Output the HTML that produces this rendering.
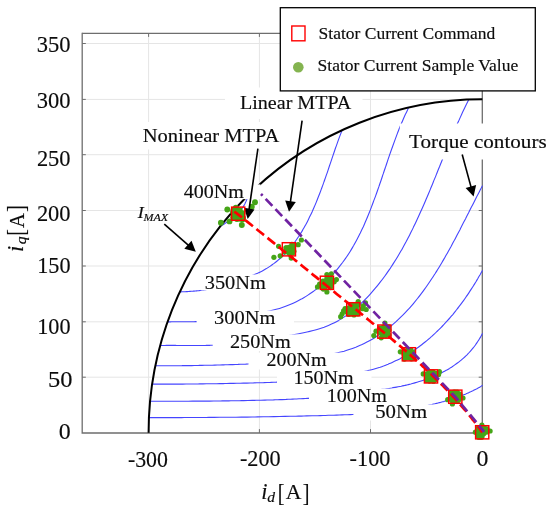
<!DOCTYPE html><html><head><meta charset="utf-8"><title>MTPA current trajectory</title>
<style>html,body{margin:0;padding:0;background:#fff}svg{display:block}text{font-family:"Liberation Serif","DejaVu Serif",serif;fill:#0c0c0c;stroke:#0c0c0c;stroke-width:0.15px}</style></head><body>
<svg width="550" height="509" viewBox="0 0 550 509">
<rect width="550" height="509" fill="#fff"/>
<g stroke="#e5e5e5" stroke-width="1"><line x1="148.6" y1="33.3" x2="148.6" y2="432.7"/><line x1="259.4" y1="33.3" x2="259.4" y2="432.7"/><line x1="370.5" y1="33.3" x2="370.5" y2="432.7"/><line x1="82.2" y1="43.5" x2="482.3" y2="43.5"/><line x1="82.2" y1="99.4" x2="482.3" y2="99.4"/><line x1="82.2" y1="154.7" x2="482.3" y2="154.7"/><line x1="82.2" y1="210.5" x2="482.3" y2="210.5"/><line x1="82.2" y1="266.0" x2="482.3" y2="266.0"/><line x1="82.2" y1="321.8" x2="482.3" y2="321.8"/><line x1="82.2" y1="377.2" x2="482.3" y2="377.2"/></g>
<g stroke="#6e6e6e" stroke-width="1.3" fill="none">
<path d="M82.2 32.7 V433.0 H482.3 V33.3"/>
<path d="M82.2 33.3 H482.3"/>
<path d="M148.6 433.0 v-3.9 M148.6 33.3 v3.6 M259.4 433.0 v-3.9 M259.4 33.3 v3.6 M370.5 433.0 v-3.9 M370.5 33.3 v3.6 M82.2 43.5 h3.6 M482.3 43.5 h-3.6 M82.2 99.4 h3.6 M482.3 99.4 h-3.6 M82.2 154.7 h3.6 M482.3 154.7 h-3.6 M82.2 210.5 h3.6 M482.3 210.5 h-3.6 M82.2 266.0 h3.6 M482.3 266.0 h-3.6 M82.2 321.8 h3.6 M482.3 321.8 h-3.6 M82.2 377.2 h3.6 M482.3 377.2 h-3.6" stroke-width="1"/>
</g>
<g stroke="#4545ff" stroke-width="1.1" fill="none" stroke-linecap="round">
<path d="M219.6 226.8 C219.8 226.7 220.2 226.4 220.5 226.3 C220.8 226.1 221.1 225.9 221.4 225.7 C221.7 225.5 222.0 225.3 222.4 225.1 C222.7 224.9 223.0 224.8 223.3 224.6 C223.6 224.4 223.9 224.2 224.2 224.0 C224.5 223.8 224.8 223.6 225.1 223.4 C225.4 223.2 225.7 223.0 226.0 222.8 C226.3 222.6 226.6 222.4 226.9 222.2 C227.2 222.0 227.5 221.8 227.8 221.6 C228.1 221.4 228.4 221.2 228.7 221.0 C229.0 220.8 229.3 220.6 229.6 220.4 C229.9 220.2 230.1 220.0 230.4 219.7 C230.7 219.5 231.0 219.3 231.3 219.1 C231.6 218.9 231.9 218.7 232.1 218.4 C232.4 218.2 232.7 218.0 233.0 217.8 C233.3 217.5 233.5 217.3 233.8 217.1 C234.1 216.9 234.4 216.6 234.6 216.4 C234.9 216.2 235.2 215.9 235.4 215.7 C235.7 215.4 236.0 215.2 236.2 215.0 C236.5 214.7 236.7 214.5 237.0 214.2 C237.2 214.0 237.5 213.7 237.7 213.5 C238.0 213.2 238.2 213.0 238.5 212.7 C238.7 212.5 239.0 212.2 239.2 211.9 C239.4 211.7 239.7 211.4 239.9 211.1 C240.1 210.9 240.4 210.6 240.6 210.3 C240.8 210.1 241.0 209.8 241.2 209.5 C241.5 209.2 241.7 208.9 241.9 208.7 C242.1 208.4 242.3 208.1 242.5 207.8 C242.7 207.5 242.9 207.2 243.1 206.9 C243.3 206.6 243.5 206.3 243.6 206.0 C243.8 205.7 244.0 205.4 244.2 205.1 C244.4 204.8 244.5 204.5 244.7 204.2 C244.9 203.8 245.0 203.5 245.2 203.2 C245.3 202.9 245.5 202.6 245.6 202.2 C245.8 201.9 245.9 201.6 246.1 201.2 C246.2 200.9 246.4 200.5 246.5 200.2 C246.6 199.9 246.7 199.5 246.9 199.2 C247.0 198.8 247.1 198.4 247.2 198.1 C247.3 197.7 247.4 197.2 247.5 197.0"/>
<path d="M341.9 130.8 C341.6 131.5 340.8 133.5 340.3 134.9 C339.8 136.3 339.2 137.7 338.7 139.2 C338.2 140.6 337.7 142.0 337.2 143.4 C336.7 144.9 336.2 146.3 335.6 147.8 C335.1 149.3 334.6 150.7 334.1 152.2 C333.6 153.7 333.1 155.2 332.6 156.7 C332.1 158.2 331.6 159.7 331.1 161.2 C330.6 162.7 330.1 164.2 329.5 165.8 C329.0 167.3 328.5 168.8 328.0 170.3 C327.5 171.9 327.0 173.4 326.4 174.9 C325.9 176.5 325.4 178.0 324.8 179.5 C324.3 181.1 323.7 182.6 323.2 184.1 C322.6 185.7 322.1 187.2 321.5 188.7 C321.0 190.2 320.4 191.8 319.8 193.3 C319.2 194.8 318.6 196.3 318.0 197.8 C317.4 199.4 316.8 200.9 316.2 202.4 C315.6 203.9 315.0 205.4 314.3 206.8 C313.7 208.3 313.0 209.8 312.4 211.3 C311.7 212.7 311.0 214.2 310.3 215.6 C309.6 217.1 308.9 218.5 308.2 219.9 C307.5 221.4 306.8 222.8 306.0 224.2 C305.2 225.6 304.5 227.0 303.7 228.3 C302.9 229.7 302.1 231.0 301.3 232.4 C300.5 233.7 299.6 235.0 298.8 236.3 C297.9 237.6 297.0 238.9 296.1 240.2 C295.3 241.4 294.3 242.7 293.4 243.9 C292.5 245.1 291.5 246.3 290.5 247.5 C289.5 248.7 288.5 249.9 287.5 251.0 C286.5 252.1 285.5 253.2 284.4 254.3 C283.3 255.4 282.2 256.5 281.1 257.5 C280.0 258.5 278.8 259.5 277.7 260.5 C276.5 261.5 275.3 262.5 274.1 263.4 C272.8 264.3 271.6 265.2 270.3 266.1 C269.0 266.9 267.7 267.8 266.4 268.6 C265.0 269.4 263.7 270.1 262.3 270.9 C260.9 271.6 259.5 272.3 258.0 273.0 C256.5 273.6 255.0 274.3 253.5 274.9 C252.0 275.5 250.4 276.0 248.9 276.5 C247.3 277.1 244.8 277.8 244.0 278.0"/>
<path d="M206.0 289.8 C205.9 289.8 205.6 289.9 205.3 289.9 C205.1 289.9 204.9 289.9 204.7 290.0 C204.5 290.0 204.3 290.0 204.0 290.1 C203.8 290.1 203.6 290.1 203.4 290.1 C203.2 290.2 202.9 290.2 202.7 290.2 C202.5 290.2 202.3 290.3 202.1 290.3 C201.8 290.3 201.6 290.4 201.4 290.4 C201.2 290.4 201.0 290.4 200.7 290.5 C200.5 290.5 200.3 290.5 200.1 290.5 C199.9 290.5 199.7 290.6 199.4 290.6 C199.2 290.6 199.0 290.6 198.8 290.7 C198.6 290.7 198.3 290.7 198.1 290.7 C197.9 290.7 197.7 290.8 197.5 290.8 C197.2 290.8 197.0 290.8 196.8 290.9 C196.6 290.9 196.4 290.9 196.1 290.9 C195.9 290.9 195.7 291.0 195.5 291.0 C195.3 291.0 195.0 291.0 194.8 291.0 C194.6 291.1 194.4 291.1 194.2 291.1 C193.9 291.1 193.7 291.1 193.5 291.1 C193.3 291.2 193.1 291.2 192.8 291.2 C192.6 291.2 192.4 291.2 192.2 291.2 C192.0 291.3 191.7 291.3 191.5 291.3 C191.3 291.3 191.1 291.3 190.9 291.3 C190.6 291.4 190.4 291.4 190.2 291.4 C190.0 291.4 189.8 291.4 189.5 291.4 C189.3 291.4 189.1 291.5 188.9 291.5 C188.7 291.5 188.4 291.5 188.2 291.5 C188.0 291.5 187.8 291.5 187.6 291.6 C187.3 291.6 187.1 291.6 186.9 291.6 C186.7 291.6 186.5 291.6 186.2 291.6 C186.0 291.6 185.8 291.7 185.6 291.7 C185.4 291.7 185.1 291.7 184.9 291.7 C184.7 291.7 184.5 291.7 184.3 291.7 C184.0 291.7 183.8 291.8 183.6 291.8 C183.4 291.8 183.2 291.8 182.9 291.8 C182.7 291.8 182.5 291.8 182.3 291.8 C182.1 291.8 181.8 291.8 181.6 291.8 C181.4 291.9 181.2 291.9 181.0 291.9 C180.7 291.9 180.4 291.9 180.3 291.9"/>
<path d="M408.2 108.6 C407.7 109.6 406.3 112.6 405.3 114.6 C404.4 116.6 403.5 118.7 402.6 120.8 C401.7 122.8 400.8 124.9 399.9 127.0 C399.1 129.2 398.2 131.3 397.4 133.4 C396.6 135.6 395.8 137.8 395.0 139.9 C394.2 142.1 393.4 144.3 392.6 146.5 C391.8 148.7 391.0 150.9 390.2 153.2 C389.5 155.4 388.7 157.6 387.9 159.9 C387.2 162.1 386.4 164.4 385.7 166.6 C384.9 168.9 384.1 171.1 383.4 173.4 C382.6 175.6 381.9 177.9 381.1 180.2 C380.3 182.4 379.5 184.7 378.8 186.9 C378.0 189.2 377.2 191.4 376.4 193.7 C375.6 195.9 374.8 198.2 373.9 200.4 C373.1 202.6 372.3 204.9 371.4 207.1 C370.6 209.3 369.7 211.5 368.8 213.7 C367.9 215.9 367.0 218.1 366.1 220.2 C365.2 222.4 364.2 224.5 363.3 226.7 C362.3 228.8 361.3 230.9 360.3 233.0 C359.2 235.1 358.2 237.2 357.1 239.2 C356.0 241.3 354.9 243.3 353.8 245.3 C352.6 247.3 351.5 249.3 350.3 251.2 C349.1 253.1 347.8 255.1 346.5 257.0 C345.3 258.8 343.9 260.7 342.6 262.5 C341.2 264.3 339.8 266.1 338.4 267.9 C337.0 269.7 335.5 271.4 334.0 273.1 C332.4 274.7 330.9 276.4 329.2 278.0 C327.6 279.6 326.0 281.2 324.3 282.7 C322.6 284.2 320.8 285.7 319.0 287.1 C317.3 288.5 315.4 289.9 313.6 291.3 C311.7 292.6 309.8 293.9 307.9 295.1 C305.9 296.4 304.0 297.5 302.0 298.7 C299.9 299.8 297.9 300.9 295.8 301.9 C293.7 302.9 291.6 303.8 289.5 304.7 C287.3 305.6 285.1 306.5 282.9 307.2 C280.7 308.0 278.5 308.7 276.2 309.3 C273.9 310.0 271.6 310.5 269.3 311.0 C267.0 311.5 264.6 312.0 262.2 312.3 C259.8 312.7 256.2 313.1 255.0 313.2"/>
<path d="M205.0 321.2 C204.8 321.2 204.4 321.2 204.0 321.3 C203.7 321.3 203.4 321.3 203.1 321.3 C202.8 321.3 202.4 321.4 202.1 321.4 C201.8 321.4 201.5 321.4 201.2 321.4 C200.8 321.4 200.5 321.5 200.2 321.5 C199.9 321.5 199.6 321.5 199.3 321.5 C198.9 321.5 198.6 321.5 198.3 321.5 C198.0 321.6 197.7 321.6 197.3 321.6 C197.0 321.6 196.7 321.6 196.4 321.6 C196.1 321.6 195.7 321.6 195.4 321.6 C195.1 321.6 194.8 321.7 194.5 321.7 C194.1 321.7 193.8 321.7 193.5 321.7 C193.2 321.7 192.9 321.7 192.5 321.7 C192.2 321.7 191.9 321.7 191.6 321.7 C191.3 321.7 190.9 321.7 190.6 321.7 C190.3 321.7 190.0 321.7 189.7 321.7 C189.3 321.8 189.0 321.8 188.7 321.8 C188.4 321.8 188.1 321.8 187.7 321.8 C187.4 321.8 187.1 321.8 186.8 321.8 C186.5 321.8 186.1 321.8 185.8 321.8 C185.5 321.8 185.2 321.8 184.9 321.8 C184.5 321.8 184.2 321.8 183.9 321.8 C183.6 321.8 183.3 321.8 182.9 321.8 C182.6 321.8 182.3 321.8 182.0 321.8 C181.7 321.8 181.3 321.8 181.0 321.8 C180.7 321.8 180.4 321.8 180.1 321.8 C179.7 321.8 179.4 321.8 179.1 321.8 C178.8 321.8 178.5 321.8 178.2 321.8 C177.8 321.8 177.5 321.8 177.2 321.8 C176.9 321.8 176.6 321.8 176.2 321.8 C175.9 321.8 175.6 321.8 175.3 321.8 C175.0 321.8 174.6 321.8 174.3 321.8 C174.0 321.8 173.7 321.8 173.4 321.8 C173.0 321.8 172.7 321.8 172.4 321.8 C172.1 321.8 171.8 321.8 171.4 321.8 C171.1 321.9 170.8 321.9 170.5 321.9 C170.2 321.9 169.8 321.9 169.5 321.9 C169.2 321.9 168.9 321.9 168.6 321.9 C168.2 321.9 167.8 321.9 167.6 321.9"/>
<path d="M468.7 99.8 C468.1 101.0 466.3 104.6 465.1 107.0 C464.0 109.4 462.8 111.8 461.7 114.2 C460.6 116.7 459.5 119.1 458.4 121.6 C457.2 124.0 456.2 126.5 455.1 129.0 C454.0 131.5 452.9 134.0 451.9 136.5 C450.8 139.0 449.8 141.5 448.7 144.0 C447.7 146.5 446.7 149.0 445.6 151.6 C444.6 154.1 443.6 156.6 442.5 159.2 C441.5 161.7 440.5 164.2 439.5 166.8 C438.4 169.3 437.4 171.9 436.4 174.4 C435.4 177.0 434.3 179.5 433.3 182.0 C432.3 184.6 431.2 187.1 430.2 189.6 C429.1 192.2 428.1 194.7 427.0 197.2 C425.9 199.7 424.9 202.3 423.8 204.8 C422.7 207.3 421.6 209.8 420.4 212.3 C419.3 214.8 418.2 217.3 417.0 219.7 C415.9 222.2 414.7 224.7 413.5 227.1 C412.4 229.6 411.1 232.0 409.9 234.4 C408.7 236.8 407.4 239.2 406.2 241.6 C404.9 244.0 403.6 246.4 402.3 248.7 C400.9 251.1 399.6 253.4 398.2 255.7 C396.8 258.1 395.4 260.3 393.9 262.6 C392.5 264.9 391.0 267.1 389.5 269.4 C388.0 271.6 386.5 273.8 384.9 276.0 C383.3 278.2 381.7 280.3 380.0 282.4 C378.4 284.6 376.7 286.7 374.9 288.7 C373.2 290.8 371.4 292.8 369.6 294.8 C367.8 296.8 365.9 298.7 364.0 300.6 C362.1 302.5 360.1 304.4 358.1 306.2 C356.1 307.9 354.1 309.7 351.9 311.3 C349.8 313.0 347.7 314.6 345.5 316.1 C343.3 317.6 341.0 319.0 338.7 320.4 C336.4 321.7 334.0 323.0 331.5 324.1 C329.1 325.3 326.6 326.3 324.1 327.3 C321.5 328.2 318.9 329.1 316.2 329.8 C313.6 330.6 310.8 331.2 308.1 331.8 C305.4 332.4 302.6 333.0 299.9 333.5 C297.2 334.0 294.4 334.5 291.8 335.1 C289.1 335.6 285.3 336.5 284.0 336.8"/>
<path d="M220.0 345.0 C219.7 345.0 219.0 345.0 218.5 345.1 C218.0 345.1 217.5 345.1 216.9 345.1 C216.4 345.2 215.9 345.2 215.4 345.2 C214.9 345.2 214.4 345.2 213.9 345.3 C213.4 345.3 212.9 345.3 212.4 345.3 C211.9 345.3 211.3 345.3 210.8 345.3 C210.3 345.4 209.8 345.4 209.3 345.4 C208.8 345.4 208.3 345.4 207.8 345.4 C207.3 345.4 206.8 345.4 206.3 345.4 C205.7 345.4 205.2 345.5 204.7 345.5 C204.2 345.5 203.7 345.5 203.2 345.5 C202.7 345.5 202.2 345.5 201.7 345.5 C201.2 345.5 200.6 345.5 200.1 345.5 C199.6 345.5 199.1 345.5 198.6 345.5 C198.1 345.5 197.6 345.5 197.1 345.5 C196.6 345.5 196.1 345.5 195.6 345.5 C195.0 345.5 194.5 345.5 194.0 345.5 C193.5 345.5 193.0 345.5 192.5 345.5 C192.0 345.5 191.5 345.5 191.0 345.5 C190.5 345.5 189.9 345.5 189.4 345.5 C188.9 345.5 188.4 345.5 187.9 345.5 C187.4 345.5 186.9 345.5 186.4 345.5 C185.9 345.5 185.4 345.5 184.9 345.5 C184.3 345.5 183.8 345.5 183.3 345.5 C182.8 345.5 182.3 345.5 181.8 345.5 C181.3 345.5 180.8 345.5 180.3 345.5 C179.8 345.5 179.2 345.5 178.7 345.5 C178.2 345.5 177.7 345.5 177.2 345.5 C176.7 345.5 176.2 345.4 175.7 345.4 C175.2 345.4 174.7 345.4 174.2 345.4 C173.6 345.4 173.1 345.4 172.6 345.4 C172.1 345.4 171.6 345.4 171.1 345.4 C170.6 345.4 170.1 345.4 169.6 345.4 C169.1 345.4 168.5 345.4 168.0 345.4 C167.5 345.4 167.0 345.4 166.5 345.4 C166.0 345.4 165.5 345.4 165.0 345.5 C164.5 345.5 164.0 345.5 163.5 345.5 C162.9 345.5 162.4 345.5 161.9 345.5 C161.4 345.5 160.7 345.5 160.4 345.5"/>
<path d="M482.3 186.0 C481.8 186.9 480.5 189.5 479.6 191.2 C478.7 193.0 477.8 194.7 476.8 196.5 C475.9 198.3 475.0 200.1 474.1 201.9 C473.2 203.7 472.3 205.5 471.3 207.3 C470.4 209.1 469.5 210.9 468.6 212.8 C467.6 214.6 466.7 216.4 465.8 218.3 C464.8 220.1 463.9 222.0 462.9 223.8 C462.0 225.7 461.0 227.6 460.1 229.4 C459.1 231.3 458.1 233.1 457.1 235.0 C456.2 236.9 455.2 238.7 454.2 240.6 C453.2 242.4 452.2 244.3 451.2 246.2 C450.2 248.0 449.1 249.9 448.1 251.7 C447.1 253.6 446.0 255.4 445.0 257.2 C443.9 259.1 442.9 260.9 441.8 262.7 C440.7 264.5 439.6 266.4 438.5 268.2 C437.4 270.0 436.3 271.7 435.2 273.5 C434.0 275.3 432.9 277.1 431.7 278.8 C430.6 280.6 429.4 282.3 428.2 284.0 C427.0 285.7 425.8 287.5 424.6 289.1 C423.4 290.8 422.2 292.5 420.9 294.1 C419.7 295.8 418.4 297.4 417.1 299.0 C415.8 300.6 414.5 302.2 413.2 303.8 C411.9 305.4 410.5 306.9 409.2 308.4 C407.8 309.9 406.4 311.4 405.0 312.9 C403.6 314.4 402.2 315.8 400.7 317.2 C399.3 318.6 397.8 320.0 396.3 321.4 C394.8 322.7 393.3 324.0 391.8 325.3 C390.3 326.6 388.7 327.9 387.1 329.1 C385.5 330.3 383.9 331.5 382.3 332.7 C380.7 333.8 379.0 335.0 377.3 336.0 C375.6 337.1 373.9 338.2 372.2 339.2 C370.5 340.2 368.7 341.2 366.9 342.1 C365.1 343.0 363.3 343.9 361.5 344.8 C359.6 345.6 357.7 346.4 355.8 347.2 C353.9 347.9 352.0 348.6 350.0 349.3 C348.1 350.0 346.1 350.6 344.1 351.2 C342.0 351.7 340.0 352.3 337.9 352.7 C335.8 353.2 333.7 353.7 331.5 354.0 C329.4 354.4 326.1 354.8 325.0 355.0"/>
<path d="M256.0 363.6 C255.6 363.6 254.3 363.7 253.4 363.7 C252.6 363.8 251.7 363.8 250.9 363.8 C250.0 363.9 249.1 363.9 248.3 364.0 C247.4 364.0 246.6 364.0 245.7 364.1 C244.9 364.1 244.0 364.1 243.1 364.2 C242.3 364.2 241.4 364.2 240.6 364.3 C239.7 364.3 238.8 364.3 238.0 364.4 C237.1 364.4 236.3 364.4 235.4 364.5 C234.6 364.5 233.7 364.5 232.8 364.6 C232.0 364.6 231.1 364.6 230.3 364.6 C229.4 364.7 228.6 364.7 227.7 364.7 C226.8 364.8 226.0 364.8 225.1 364.8 C224.3 364.8 223.4 364.9 222.5 364.9 C221.7 364.9 220.8 364.9 220.0 365.0 C219.1 365.0 218.3 365.0 217.4 365.0 C216.5 365.1 215.7 365.1 214.8 365.1 C214.0 365.1 213.1 365.1 212.3 365.2 C211.4 365.2 210.5 365.2 209.7 365.2 C208.8 365.2 208.0 365.3 207.1 365.3 C206.2 365.3 205.4 365.3 204.5 365.3 C203.7 365.4 202.8 365.4 202.0 365.4 C201.1 365.4 200.2 365.4 199.4 365.4 C198.5 365.4 197.7 365.5 196.8 365.5 C195.9 365.5 195.1 365.5 194.2 365.5 C193.4 365.5 192.5 365.5 191.7 365.6 C190.8 365.6 189.9 365.6 189.1 365.6 C188.2 365.6 187.4 365.6 186.5 365.6 C185.6 365.6 184.8 365.6 183.9 365.6 C183.1 365.6 182.2 365.7 181.4 365.7 C180.5 365.7 179.6 365.7 178.8 365.7 C177.9 365.7 177.1 365.7 176.2 365.7 C175.3 365.7 174.5 365.7 173.6 365.7 C172.8 365.7 171.9 365.7 171.1 365.7 C170.2 365.7 169.3 365.7 168.5 365.7 C167.6 365.7 166.8 365.7 165.9 365.7 C165.0 365.7 164.2 365.7 163.3 365.7 C162.5 365.7 161.6 365.7 160.8 365.7 C159.9 365.7 159.0 365.7 158.2 365.7 C157.3 365.7 156.0 365.7 155.6 365.7"/>
<path d="M482.3 270.7 C481.9 271.3 480.9 273.2 480.2 274.5 C479.5 275.7 478.7 277.0 478.0 278.3 C477.3 279.5 476.5 280.8 475.8 282.0 C475.0 283.2 474.3 284.5 473.5 285.7 C472.7 287.0 471.9 288.2 471.1 289.4 C470.3 290.7 469.5 291.9 468.7 293.1 C467.9 294.3 467.1 295.5 466.2 296.7 C465.4 297.9 464.6 299.1 463.7 300.3 C462.8 301.5 462.0 302.7 461.1 303.9 C460.2 305.1 459.3 306.2 458.4 307.4 C457.6 308.6 456.6 309.7 455.7 310.9 C454.8 312.0 453.9 313.1 453.0 314.3 C452.0 315.4 451.1 316.5 450.1 317.6 C449.2 318.7 448.2 319.8 447.2 320.9 C446.2 322.0 445.2 323.1 444.2 324.2 C443.2 325.2 442.2 326.3 441.2 327.3 C440.2 328.4 439.2 329.4 438.1 330.4 C437.1 331.4 436.0 332.4 435.0 333.4 C433.9 334.4 432.8 335.4 431.8 336.4 C430.7 337.3 429.6 338.3 428.5 339.2 C427.4 340.2 426.3 341.1 425.1 342.0 C424.0 342.9 422.9 343.8 421.7 344.7 C420.6 345.6 419.4 346.4 418.3 347.3 C417.1 348.1 415.9 348.9 414.7 349.8 C413.6 350.6 412.4 351.4 411.1 352.1 C409.9 352.9 408.7 353.7 407.5 354.4 C406.3 355.2 405.0 355.9 403.8 356.6 C402.5 357.3 401.2 358.0 400.0 358.7 C398.7 359.3 397.4 360.0 396.1 360.6 C394.8 361.3 393.5 361.9 392.2 362.5 C390.9 363.1 389.6 363.6 388.2 364.2 C386.9 364.7 385.5 365.3 384.2 365.8 C382.8 366.3 381.4 366.7 380.1 367.2 C378.7 367.7 377.3 368.1 375.9 368.5 C374.5 368.9 373.1 369.3 371.6 369.7 C370.2 370.1 368.8 370.4 367.3 370.8 C365.9 371.1 364.4 371.4 363.0 371.7 C361.5 371.9 360.0 372.2 358.5 372.4 C357.0 372.6 354.7 372.9 354.0 373.0"/>
<path d="M284.0 381.9 C283.4 381.9 281.7 382.0 280.6 382.0 C279.5 382.1 278.4 382.1 277.2 382.1 C276.1 382.2 275.0 382.2 273.9 382.3 C272.7 382.3 271.6 382.3 270.5 382.4 C269.4 382.4 268.2 382.4 267.1 382.5 C266.0 382.5 264.9 382.5 263.7 382.6 C262.6 382.6 261.5 382.6 260.4 382.7 C259.2 382.7 258.1 382.7 257.0 382.8 C255.9 382.8 254.7 382.8 253.6 382.9 C252.5 382.9 251.4 382.9 250.2 383.0 C249.1 383.0 248.0 383.0 246.9 383.1 C245.7 383.1 244.6 383.1 243.5 383.1 C242.4 383.2 241.2 383.2 240.1 383.2 C239.0 383.2 237.9 383.3 236.7 383.3 C235.6 383.3 234.5 383.3 233.4 383.4 C232.2 383.4 231.1 383.4 230.0 383.4 C228.9 383.5 227.7 383.5 226.6 383.5 C225.5 383.5 224.4 383.6 223.2 383.6 C222.1 383.6 221.0 383.6 219.8 383.6 C218.7 383.7 217.6 383.7 216.5 383.7 C215.3 383.7 214.2 383.7 213.1 383.7 C212.0 383.8 210.8 383.8 209.7 383.8 C208.6 383.8 207.5 383.8 206.3 383.8 C205.2 383.9 204.1 383.9 203.0 383.9 C201.8 383.9 200.7 383.9 199.6 383.9 C198.5 383.9 197.3 384.0 196.2 384.0 C195.1 384.0 194.0 384.0 192.8 384.0 C191.7 384.0 190.6 384.0 189.5 384.0 C188.3 384.0 187.2 384.0 186.1 384.0 C184.9 384.1 183.8 384.1 182.7 384.1 C181.6 384.1 180.4 384.1 179.3 384.1 C178.2 384.1 177.1 384.1 175.9 384.1 C174.8 384.1 173.7 384.1 172.6 384.1 C171.4 384.1 170.3 384.1 169.2 384.1 C168.1 384.1 166.9 384.1 165.8 384.1 C164.7 384.1 163.6 384.1 162.4 384.1 C161.3 384.1 160.2 384.1 159.1 384.1 C157.9 384.1 156.8 384.1 155.7 384.1 C154.6 384.1 152.9 384.1 152.3 384.1"/>
<path d="M482.3 333.7 C482.0 334.2 481.3 335.7 480.7 336.7 C480.2 337.7 479.6 338.6 479.0 339.6 C478.4 340.5 477.8 341.5 477.2 342.4 C476.6 343.3 476.0 344.2 475.4 345.0 C474.7 345.9 474.1 346.8 473.4 347.6 C472.7 348.5 472.0 349.3 471.3 350.1 C470.6 350.9 469.9 351.7 469.2 352.5 C468.5 353.3 467.7 354.0 467.0 354.8 C466.2 355.5 465.5 356.3 464.7 357.0 C463.9 357.7 463.1 358.4 462.3 359.1 C461.5 359.8 460.7 360.5 459.9 361.1 C459.1 361.8 458.3 362.4 457.4 363.0 C456.6 363.7 455.7 364.3 454.8 364.9 C454.0 365.5 453.1 366.1 452.2 366.7 C451.3 367.2 450.4 367.8 449.5 368.4 C448.6 368.9 447.7 369.4 446.8 370.0 C445.9 370.5 444.9 371.0 444.0 371.5 C443.1 372.0 442.1 372.5 441.2 373.0 C440.2 373.4 439.3 373.9 438.3 374.3 C437.3 374.8 436.4 375.2 435.4 375.7 C434.4 376.1 433.4 376.5 432.4 376.9 C431.4 377.3 430.4 377.7 429.4 378.1 C428.4 378.5 427.4 378.9 426.4 379.2 C425.4 379.6 424.3 379.9 423.3 380.3 C422.3 380.6 421.3 381.0 420.2 381.3 C419.2 381.6 418.2 381.9 417.1 382.2 C416.1 382.5 415.0 382.8 414.0 383.1 C412.9 383.4 411.9 383.7 410.8 384.0 C409.8 384.2 408.7 384.5 407.7 384.7 C406.6 385.0 405.6 385.2 404.5 385.5 C403.5 385.7 402.4 385.9 401.3 386.2 C400.3 386.4 399.2 386.6 398.1 386.8 C397.1 387.0 396.0 387.2 395.0 387.4 C393.9 387.6 392.8 387.8 391.8 388.0 C390.7 388.1 389.7 388.3 388.6 388.5 C387.5 388.6 386.5 388.8 385.4 389.0 C384.4 389.1 383.3 389.3 382.3 389.4 C381.2 389.5 380.2 389.7 379.1 389.8 C378.1 389.9 376.5 390.1 376.0 390.2"/>
<path d="M316.0 397.9 C315.3 397.9 313.2 398.1 311.7 398.1 C310.3 398.2 308.9 398.3 307.5 398.4 C306.1 398.5 304.7 398.5 303.2 398.6 C301.8 398.7 300.4 398.8 299.0 398.8 C297.6 398.9 296.2 399.0 294.7 399.0 C293.3 399.1 291.9 399.1 290.5 399.2 C289.1 399.3 287.6 399.3 286.2 399.4 C284.8 399.4 283.4 399.5 282.0 399.6 C280.6 399.6 279.1 399.7 277.7 399.7 C276.3 399.8 274.9 399.8 273.5 399.9 C272.0 399.9 270.6 399.9 269.2 400.0 C267.8 400.0 266.4 400.1 265.0 400.1 C263.5 400.2 262.1 400.2 260.7 400.2 C259.3 400.3 257.9 400.3 256.4 400.3 C255.0 400.4 253.6 400.4 252.2 400.4 C250.8 400.5 249.3 400.5 247.9 400.5 C246.5 400.6 245.1 400.6 243.7 400.6 C242.3 400.6 240.8 400.7 239.4 400.7 C238.0 400.7 236.6 400.7 235.2 400.8 C233.7 400.8 232.3 400.8 230.9 400.8 C229.5 400.8 228.1 400.9 226.6 400.9 C225.2 400.9 223.8 400.9 222.4 400.9 C221.0 400.9 219.5 401.0 218.1 401.0 C216.7 401.0 215.3 401.0 213.9 401.0 C212.4 401.0 211.0 401.0 209.6 401.1 C208.2 401.1 206.8 401.1 205.4 401.1 C203.9 401.1 202.5 401.1 201.1 401.1 C199.7 401.1 198.3 401.1 196.8 401.1 C195.4 401.1 194.0 401.1 192.6 401.1 C191.2 401.2 189.7 401.2 188.3 401.2 C186.9 401.2 185.5 401.2 184.1 401.2 C182.6 401.2 181.2 401.2 179.8 401.2 C178.4 401.2 177.0 401.2 175.5 401.2 C174.1 401.2 172.7 401.2 171.3 401.2 C169.9 401.2 168.4 401.2 167.0 401.2 C165.6 401.2 164.2 401.2 162.8 401.2 C161.4 401.2 159.9 401.2 158.5 401.2 C157.1 401.2 155.7 401.2 154.3 401.2 C152.8 401.2 150.7 401.2 150.0 401.2"/>
<path d="M482.3 385.6 C482.1 385.7 481.4 386.1 481.0 386.4 C480.6 386.7 480.1 386.9 479.7 387.2 C479.2 387.4 478.8 387.7 478.3 387.9 C477.9 388.2 477.4 388.4 477.0 388.7 C476.5 388.9 476.1 389.1 475.6 389.4 C475.2 389.6 474.7 389.8 474.3 390.1 C473.8 390.3 473.4 390.5 472.9 390.8 C472.4 391.0 472.0 391.2 471.5 391.4 C471.1 391.7 470.6 391.9 470.1 392.1 C469.7 392.3 469.2 392.5 468.7 392.7 C468.3 392.9 467.8 393.1 467.3 393.3 C466.8 393.5 466.4 393.7 465.9 393.9 C465.4 394.1 465.0 394.3 464.5 394.5 C464.0 394.7 463.5 394.9 463.0 395.1 C462.6 395.3 462.1 395.5 461.6 395.7 C461.1 395.9 460.6 396.0 460.2 396.2 C459.7 396.4 459.2 396.6 458.7 396.7 C458.2 396.9 457.7 397.1 457.3 397.3 C456.8 397.4 456.3 397.6 455.8 397.8 C455.3 397.9 454.8 398.1 454.3 398.3 C453.8 398.4 453.3 398.6 452.9 398.8 C452.4 398.9 451.9 399.1 451.4 399.2 C450.9 399.4 450.4 399.5 449.9 399.7 C449.4 399.8 448.9 400.0 448.4 400.1 C447.9 400.3 447.4 400.4 446.9 400.6 C446.4 400.7 445.9 400.9 445.4 401.0 C444.9 401.1 444.4 401.3 444.0 401.4 C443.5 401.6 443.0 401.7 442.5 401.8 C442.0 402.0 441.5 402.1 441.0 402.2 C440.5 402.4 440.0 402.5 439.5 402.6 C439.0 402.7 438.5 402.9 438.0 403.0 C437.5 403.1 437.0 403.3 436.5 403.4 C436.0 403.5 435.5 403.6 435.0 403.7 C434.5 403.9 434.0 404.0 433.5 404.1 C433.0 404.2 432.5 404.3 432.0 404.5 C431.5 404.6 431.0 404.7 430.5 404.8 C430.0 404.9 429.5 405.0 429.0 405.1 C428.5 405.3 428.0 405.4 427.5 405.5 C427.0 405.6 426.2 405.7 426.0 405.8"/>
<path d="M361.0 414.2 C360.1 414.2 357.4 414.3 355.6 414.4 C353.8 414.5 351.9 414.5 350.1 414.6 C348.3 414.7 346.5 414.7 344.7 414.8 C342.9 414.9 341.1 414.9 339.3 415.0 C337.5 415.1 335.6 415.1 333.8 415.2 C332.0 415.2 330.2 415.3 328.4 415.3 C326.6 415.4 324.8 415.5 323.0 415.5 C321.2 415.6 319.3 415.6 317.5 415.7 C315.7 415.7 313.9 415.8 312.1 415.8 C310.3 415.9 308.5 415.9 306.7 415.9 C304.8 416.0 303.0 416.0 301.2 416.1 C299.4 416.1 297.6 416.2 295.8 416.2 C294.0 416.2 292.2 416.3 290.4 416.3 C288.5 416.4 286.7 416.4 284.9 416.4 C283.1 416.5 281.3 416.5 279.5 416.5 C277.7 416.6 275.9 416.6 274.0 416.6 C272.2 416.7 270.4 416.7 268.6 416.7 C266.8 416.8 265.0 416.8 263.2 416.8 C261.4 416.9 259.5 416.9 257.7 416.9 C255.9 416.9 254.1 417.0 252.3 417.0 C250.5 417.0 248.7 417.0 246.9 417.1 C245.1 417.1 243.2 417.1 241.4 417.1 C239.6 417.2 237.8 417.2 236.0 417.2 C234.2 417.2 232.4 417.2 230.6 417.2 C228.7 417.3 226.9 417.3 225.1 417.3 C223.3 417.3 221.5 417.3 219.7 417.3 C217.9 417.4 216.1 417.4 214.2 417.4 C212.4 417.4 210.6 417.4 208.8 417.4 C207.0 417.4 205.2 417.5 203.4 417.5 C201.6 417.5 199.7 417.5 197.9 417.5 C196.1 417.5 194.3 417.5 192.5 417.5 C190.7 417.5 188.9 417.5 187.1 417.5 C185.2 417.5 183.4 417.6 181.6 417.6 C179.8 417.6 178.0 417.6 176.2 417.6 C174.4 417.6 172.6 417.6 170.7 417.6 C168.9 417.6 167.1 417.6 165.3 417.6 C163.5 417.6 161.7 417.6 159.9 417.6 C158.1 417.6 156.2 417.6 154.4 417.6 C152.6 417.6 149.9 417.6 149.0 417.6"/>
</g>
<path d="M148.6 432.7 A333.7 333.4 0 0 1 482.3 99.3" stroke="#000" stroke-width="2" fill="none"/>
<rect x="182.0" y="184.4" width="78.5" height="14.7" fill="#fff"/>
<rect x="200.8" y="274.5" width="71.2" height="15.9" fill="#fff"/>
<rect x="196.6" y="310.5" width="97.4" height="17.5" fill="#fff"/>
<rect x="212.7" y="334.4" width="95.9" height="16.6" fill="#fff"/>
<rect x="248.5" y="352.7" width="96.0" height="16.8" fill="#fff"/>
<rect x="277.0" y="370.8" width="94.5" height="16.7" fill="#fff"/>
<rect x="309.0" y="388.7" width="96.0" height="16.8" fill="#fff"/>
<rect x="353.4" y="404.5" width="96.1" height="16.0" fill="#fff"/>
<rect x="138.0" y="122.0" width="146.0" height="27.5" fill="#fff"/>
<rect x="225.0" y="87.5" width="137.5" height="31.5" fill="#fff"/>
<rect x="399.8" y="123.5" width="150.2" height="36.0" fill="#fff"/>
<text x="183.71" y="197.80" font-size="19.2" textLength="60.10" lengthAdjust="spacingAndGlyphs" stroke-width="0.17">400Nm</text>
<text x="204.73" y="288.80" font-size="19.2" textLength="61.09" lengthAdjust="spacingAndGlyphs" stroke-width="0.17">350Nm</text>
<text x="214.02" y="324.40" font-size="19.2" textLength="61.30" lengthAdjust="spacingAndGlyphs" stroke-width="0.17">300Nm</text>
<text x="230.01" y="348.00" font-size="19.2" textLength="60.71" lengthAdjust="spacingAndGlyphs" stroke-width="0.17">250Nm</text>
<text x="266.42" y="366.00" font-size="19.2" textLength="60.09" lengthAdjust="spacingAndGlyphs" stroke-width="0.17">200Nm</text>
<text x="293.54" y="383.50" font-size="19.2" textLength="60.18" lengthAdjust="spacingAndGlyphs" stroke-width="0.17">150Nm</text>
<text x="326.74" y="402.10" font-size="19.2" textLength="60.18" lengthAdjust="spacingAndGlyphs" stroke-width="0.17">100Nm</text>
<text x="375.19" y="417.70" font-size="19.2" textLength="51.93" lengthAdjust="spacingAndGlyphs" stroke-width="0.17">50Nm</text>
<text x="142.72" y="141.80" font-size="19.2" textLength="136.73" lengthAdjust="spacingAndGlyphs" stroke-width="0.17">Noninear MTPA</text>
<text x="239.93" y="108.60" font-size="19.2" textLength="111.41" lengthAdjust="spacingAndGlyphs" stroke-width="0.17">Linear MTPA</text>
<text x="409.12" y="147.70" font-size="19.2" textLength="137.53" lengthAdjust="spacingAndGlyphs" stroke-width="0.17">Torque contours</text>
<text x="137.87" y="218.30" font-size="16.6" textLength="6.02" lengthAdjust="spacingAndGlyphs" stroke-width="0.05" font-style="italic">I</text>
<text x="143.54" y="220.90" font-size="11.2" textLength="24.67" lengthAdjust="spacingAndGlyphs" stroke-width="0.05" font-style="italic">MAX</text>
<g fill="#45a517"><circle cx="255.0" cy="202.3" r="2.95"/><circle cx="251.8" cy="206.8" r="2.95"/><circle cx="227.3" cy="209.5" r="2.95"/><circle cx="235.9" cy="207.7" r="2.95"/><circle cx="220.9" cy="222.7" r="2.95"/><circle cx="229.5" cy="221.4" r="2.95"/><circle cx="241.8" cy="225.0" r="2.95"/><circle cx="236.0" cy="215.0" r="2.95"/><circle cx="240.0" cy="213.0" r="2.95"/><circle cx="243.0" cy="218.0" r="2.95"/><circle cx="237.0" cy="219.0" r="2.95"/><circle cx="233.0" cy="212.0" r="2.95"/><circle cx="301.4" cy="240.0" r="2.6"/><circle cx="298.2" cy="244.7" r="2.6"/><circle cx="278.6" cy="246.3" r="2.6"/><circle cx="273.9" cy="257.3" r="2.6"/><circle cx="280.2" cy="255.8" r="2.6"/><circle cx="291.2" cy="258.1" r="2.6"/><circle cx="286.4" cy="247.9" r="2.6"/><circle cx="292.0" cy="250.3" r="2.6"/><circle cx="288.8" cy="252.6" r="2.6"/><circle cx="293.5" cy="247.1" r="2.6"/><circle cx="285.0" cy="252.0" r="2.6"/><circle cx="326.9" cy="274.5" r="2.6"/><circle cx="331.3" cy="273.8" r="2.6"/><circle cx="336.4" cy="279.6" r="2.6"/><circle cx="334.2" cy="281.8" r="2.6"/><circle cx="317.5" cy="286.9" r="2.6"/><circle cx="319.6" cy="284.0" r="2.6"/><circle cx="326.9" cy="292.0" r="2.6"/><circle cx="323.3" cy="289.1" r="2.6"/><circle cx="327.0" cy="280.0" r="2.6"/><circle cx="329.0" cy="284.0" r="2.6"/><circle cx="325.0" cy="285.0" r="2.6"/><circle cx="330.0" cy="278.0" r="2.6"/><circle cx="323.0" cy="281.0" r="2.6"/><circle cx="340.7" cy="316.7" r="2.6"/><circle cx="342.2" cy="313.8" r="2.6"/><circle cx="343.6" cy="310.9" r="2.6"/><circle cx="345.1" cy="308.7" r="2.6"/><circle cx="358.2" cy="301.5" r="2.6"/><circle cx="365.5" cy="302.9" r="2.6"/><circle cx="363.3" cy="305.8" r="2.6"/><circle cx="366.2" cy="309.5" r="2.6"/><circle cx="362.5" cy="308.7" r="2.6"/><circle cx="350.0" cy="310.0" r="2.6"/><circle cx="352.0" cy="313.0" r="2.6"/><circle cx="355.0" cy="311.0" r="2.6"/><circle cx="349.0" cy="314.0" r="2.6"/><circle cx="353.0" cy="307.0" r="2.6"/><circle cx="356.0" cy="308.0" r="2.6"/><circle cx="351.0" cy="305.0" r="2.6"/><circle cx="347.0" cy="312.0" r="2.6"/><circle cx="348.0" cy="308.0" r="2.6"/><circle cx="357.0" cy="304.0" r="2.6"/><circle cx="354.0" cy="315.0" r="2.6"/><circle cx="373.8" cy="335.6" r="2.6"/><circle cx="376.0" cy="331.2" r="2.6"/><circle cx="384.9" cy="323.1" r="2.6"/><circle cx="388.6" cy="326.8" r="2.6"/><circle cx="381.2" cy="337.8" r="2.6"/><circle cx="387.1" cy="334.1" r="2.6"/><circle cx="383.0" cy="329.0" r="2.6"/><circle cx="385.0" cy="332.0" r="2.6"/><circle cx="381.0" cy="333.0" r="2.6"/><circle cx="380.0" cy="328.0" r="2.6"/><circle cx="386.0" cy="330.0" r="2.6"/><circle cx="400.3" cy="351.8" r="2.6"/><circle cx="405.0" cy="351.0" r="2.6"/><circle cx="408.0" cy="354.0" r="2.6"/><circle cx="406.0" cy="357.0" r="2.6"/><circle cx="410.0" cy="352.0" r="2.6"/><circle cx="404.0" cy="354.0" r="2.6"/><circle cx="411.0" cy="357.0" r="2.6"/><circle cx="408.0" cy="350.0" r="2.6"/><circle cx="413.0" cy="354.0" r="2.6"/><circle cx="423.2" cy="373.9" r="2.6"/><circle cx="439.4" cy="371.7" r="2.6"/><circle cx="438.6" cy="374.6" r="2.6"/><circle cx="428.0" cy="375.0" r="2.6"/><circle cx="431.0" cy="378.0" r="2.6"/><circle cx="434.0" cy="374.0" r="2.6"/><circle cx="429.0" cy="380.0" r="2.6"/><circle cx="433.0" cy="381.0" r="2.6"/><circle cx="427.0" cy="378.0" r="2.6"/><circle cx="435.0" cy="378.0" r="2.6"/><circle cx="431.0" cy="372.0" r="2.6"/><circle cx="447.7" cy="399.7" r="2.6"/><circle cx="452.4" cy="403.9" r="2.6"/><circle cx="463.0" cy="398.0" r="2.6"/><circle cx="455.3" cy="392.0" r="2.6"/><circle cx="452.0" cy="395.0" r="2.6"/><circle cx="455.0" cy="398.0" r="2.6"/><circle cx="458.0" cy="395.0" r="2.6"/><circle cx="453.0" cy="400.0" r="2.6"/><circle cx="457.0" cy="401.0" r="2.6"/><circle cx="459.0" cy="398.0" r="2.6"/><circle cx="481.9" cy="425.1" r="2.6"/><circle cx="475.4" cy="432.2" r="2.6"/><circle cx="490.1" cy="431.0" r="2.6"/><circle cx="480.1" cy="437.5" r="2.6"/><circle cx="480.0" cy="430.0" r="2.6"/><circle cx="483.0" cy="433.0" r="2.6"/><circle cx="485.0" cy="429.0" r="2.6"/><circle cx="479.0" cy="434.0" r="2.6"/><circle cx="482.0" cy="436.0" r="2.6"/><circle cx="486.0" cy="432.0" r="2.6"/><circle cx="233.7" cy="209.7" r="2.95"/><circle cx="236.2" cy="211.2" r="2.95"/><circle cx="239.7" cy="210.2" r="2.95"/><circle cx="235.2" cy="214.7" r="2.95"/><circle cx="238.7" cy="216.2" r="2.95"/><circle cx="241.7" cy="216.7" r="2.95"/><circle cx="236.2" cy="218.2" r="2.95"/><circle cx="240.2" cy="218.7" r="2.95"/><circle cx="242.7" cy="219.2" r="2.95"/><circle cx="233.2" cy="217.2" r="2.95"/><circle cx="242.5" cy="213.2" r="2.95"/><circle cx="237.7" cy="213.2" r="2.95"/><circle cx="285.9" cy="247.8" r="2.6"/><circle cx="288.9" cy="247.3" r="2.6"/><circle cx="291.9" cy="246.3" r="2.6"/><circle cx="293.4" cy="248.8" r="2.6"/><circle cx="290.9" cy="250.8" r="2.6"/><circle cx="287.9" cy="251.8" r="2.6"/><circle cx="292.9" cy="252.8" r="2.6"/><circle cx="289.9" cy="254.3" r="2.6"/><circle cx="286.4" cy="250.3" r="2.6"/><circle cx="293.9" cy="251.3" r="2.6"/><circle cx="291.9" cy="244.3" r="2.6"/><circle cx="293.7" cy="245.3" r="2.6"/><circle cx="326.9" cy="278.3" r="2.6"/><circle cx="330.4" cy="278.3" r="2.6"/><circle cx="331.4" cy="281.3" r="2.6"/><circle cx="328.4" cy="281.8" r="2.6"/><circle cx="330.9" cy="284.8" r="2.6"/><circle cx="327.9" cy="285.8" r="2.6"/><circle cx="324.9" cy="287.3" r="2.6"/><circle cx="330.4" cy="287.6" r="2.6"/><circle cx="326.4" cy="283.8" r="2.6"/><circle cx="329.4" cy="283.3" r="2.6"/><circle cx="322.4" cy="286.3" r="2.6"/><circle cx="348.8" cy="308.3" r="2.6"/><circle cx="351.3" cy="305.8" r="2.6"/><circle cx="354.3" cy="304.8" r="2.6"/><circle cx="348.8" cy="312.3" r="2.6"/><circle cx="351.8" cy="310.3" r="2.6"/><circle cx="354.8" cy="308.3" r="2.6"/><circle cx="351.3" cy="313.8" r="2.6"/><circle cx="354.8" cy="312.8" r="2.6"/><circle cx="357.8" cy="313.8" r="2.6"/><circle cx="357.8" cy="305.3" r="2.6"/><circle cx="348.5" cy="314.3" r="2.6"/><circle cx="357.1" cy="310.3" r="2.6"/><circle cx="383.4" cy="327.1" r="2.6"/><circle cx="386.9" cy="327.6" r="2.6"/><circle cx="388.9" cy="330.1" r="2.6"/><circle cx="384.9" cy="330.1" r="2.6"/><circle cx="387.4" cy="332.6" r="2.6"/><circle cx="383.4" cy="333.1" r="2.6"/><circle cx="385.9" cy="335.6" r="2.6"/><circle cx="388.9" cy="335.1" r="2.6"/><circle cx="380.9" cy="329.6" r="2.6"/><circle cx="382.4" cy="336.1" r="2.6"/><circle cx="379.9" cy="332.6" r="2.6"/><circle cx="404.4" cy="353.3" r="2.6"/><circle cx="407.4" cy="350.3" r="2.6"/><circle cx="410.9" cy="349.8" r="2.6"/><circle cx="413.4" cy="352.3" r="2.6"/><circle cx="405.4" cy="356.3" r="2.6"/><circle cx="408.9" cy="354.3" r="2.6"/><circle cx="411.9" cy="355.3" r="2.6"/><circle cx="407.9" cy="357.8" r="2.6"/><circle cx="411.4" cy="358.8" r="2.6"/><circle cx="413.7" cy="358.3" r="2.6"/><circle cx="404.4" cy="359.1" r="2.6"/><circle cx="409.9" cy="352.3" r="2.6"/><circle cx="429.5" cy="371.9" r="2.6"/><circle cx="433.0" cy="371.9" r="2.6"/><circle cx="435.7" cy="373.4" r="2.6"/><circle cx="431.5" cy="374.9" r="2.6"/><circle cx="434.5" cy="376.4" r="2.6"/><circle cx="428.5" cy="377.9" r="2.6"/><circle cx="432.0" cy="378.9" r="2.6"/><circle cx="435.5" cy="379.4" r="2.6"/><circle cx="429.5" cy="381.1" r="2.6"/><circle cx="433.5" cy="381.2" r="2.6"/><circle cx="426.5" cy="380.4" r="2.6"/><circle cx="426.3" cy="373.9" r="2.6"/><circle cx="450.8" cy="392.7" r="2.6"/><circle cx="453.8" cy="392.2" r="2.6"/><circle cx="457.3" cy="392.2" r="2.6"/><circle cx="460.0" cy="394.2" r="2.6"/><circle cx="450.8" cy="396.2" r="2.6"/><circle cx="454.3" cy="395.7" r="2.6"/><circle cx="457.8" cy="396.2" r="2.6"/><circle cx="451.8" cy="399.7" r="2.6"/><circle cx="455.3" cy="399.2" r="2.6"/><circle cx="458.8" cy="399.7" r="2.6"/><circle cx="453.8" cy="401.5" r="2.6"/><circle cx="457.3" cy="401.5" r="2.6"/><circle cx="460.1" cy="397.7" r="2.6"/><circle cx="477.7" cy="428.3" r="2.6"/><circle cx="480.7" cy="427.8" r="2.6"/><circle cx="484.2" cy="427.8" r="2.6"/><circle cx="486.9" cy="428.8" r="2.6"/><circle cx="477.7" cy="431.8" r="2.6"/><circle cx="481.2" cy="431.3" r="2.6"/><circle cx="484.7" cy="431.3" r="2.6"/><circle cx="478.2" cy="435.3" r="2.6"/><circle cx="481.2" cy="434.8" r="2.6"/><circle cx="478.7" cy="437.3" r="2.6"/><circle cx="481.7" cy="437.3" r="2.6"/><circle cx="487.0" cy="431.8" r="2.6"/><circle cx="483.7" cy="433.8" r="2.6"/></g>
<path d="M234.3 211.4 C235.0 212.0 237.2 213.7 238.7 214.9 C240.2 216.1 241.7 217.3 243.1 218.4 C244.6 219.6 246.1 220.8 247.5 221.9 C249.0 223.1 250.5 224.3 252.0 225.5 C253.4 226.6 254.9 227.8 256.4 229.0 C257.8 230.2 259.3 231.3 260.8 232.5 C262.2 233.7 263.7 234.9 265.2 236.0 C266.7 237.2 268.1 238.4 269.6 239.6 C271.1 240.8 272.5 241.9 274.0 243.1 C275.5 244.3 276.9 245.5 278.4 246.7 C279.9 247.8 281.3 249.0 282.8 250.2 C284.3 251.4 285.7 252.6 287.2 253.7 C288.7 254.9 290.1 256.1 291.6 257.3 C293.0 258.5 294.5 259.7 296.0 260.8 C297.4 262.0 298.9 263.2 300.4 264.4 C301.8 265.6 303.3 266.8 304.8 268.0 C306.2 269.1 307.7 270.3 309.2 271.5 C310.6 272.7 312.1 273.9 313.5 275.1 C315.0 276.3 316.5 277.4 317.9 278.6 C319.4 279.8 320.9 281.0 322.3 282.2 C323.8 283.4 325.2 284.6 326.7 285.8 C328.2 286.9 329.6 288.1 331.1 289.3 C332.6 290.5 334.0 291.7 335.5 292.9 C336.9 294.1 338.4 295.3 339.9 296.5 C341.3 297.6 342.8 298.8 344.3 300.0 C345.7 301.2 347.2 302.4 348.6 303.6 C350.1 304.8 351.6 306.0 353.0 307.2 C354.5 308.4 355.9 309.6 357.4 310.7 C358.9 311.9 360.3 313.1 361.8 314.3 C363.2 315.5 364.7 316.7 366.2 317.9 C367.6 319.1 369.1 320.3 370.5 321.5 C372.0 322.7 373.5 323.9 374.9 325.1 C376.4 326.3 377.8 327.5 379.3 328.7 C380.7 329.9 382.2 331.1 383.6 332.3 C385.1 333.5 386.5 334.7 388.0 335.9 C389.4 337.1 390.9 338.3 392.3 339.5 C393.7 340.7 395.2 341.9 396.6 343.2 C398.1 344.4 399.5 345.6 400.9 346.8 C402.3 348.1 403.8 349.3 405.2 350.5 C406.6 351.8 408.0 353.0 409.4 354.2 C410.8 355.5 412.2 356.7 413.6 358.0 C415.0 359.2 416.4 360.5 417.8 361.8 C419.2 363.0 420.6 364.3 422.0 365.6 C423.4 366.8 424.7 368.1 426.1 369.4 C427.5 370.7 428.8 372.0 430.2 373.3 C431.5 374.6 432.9 375.9 434.2 377.2 C435.6 378.5 436.9 379.8 438.2 381.1 C439.6 382.4 440.9 383.8 442.2 385.1 C443.5 386.4 444.8 387.8 446.1 389.1 C447.4 390.5 448.7 391.9 450.0 393.2 C451.3 394.6 452.6 396.0 453.8 397.3 C455.1 398.7 456.3 400.1 457.6 401.5 C458.8 402.9 460.1 404.3 461.3 405.8 C462.5 407.2 463.7 408.6 465.0 410.0 C466.2 411.5 467.4 412.9 468.6 414.4 C469.7 415.9 470.9 417.3 472.1 418.8 C473.3 420.3 474.4 421.8 475.6 423.3 C476.7 424.8 477.8 426.3 479.0 427.8 C480.1 429.3 481.7 431.6 482.3 432.4" fill="none" stroke="#ff0000" stroke-width="2.7" stroke-dasharray="9.7 4.46"/>
<line x1="164.3" y1="224.1" x2="189.4" y2="246.1" stroke="#000" stroke-width="1.60"/><polygon points="195.8,251.7 184.3,248.8 191.5,240.7" fill="#000"/>
<line x1="257.9" y1="148.6" x2="248.9" y2="210.6" stroke="#000" stroke-width="1.60"/><polygon points="247.7,219.0 243.9,207.8 254.5,209.4" fill="#000"/>
<line x1="302.1" y1="120.7" x2="290.2" y2="203.3" stroke="#000" stroke-width="1.60"/><polygon points="289.0,211.7 285.2,200.5 295.8,202.1" fill="#000"/>
<line x1="462.2" y1="154.5" x2="471.4" y2="188.4" stroke="#000" stroke-width="1.60"/><polygon points="473.6,196.6 465.6,187.9 476.1,185.1" fill="#000"/>
<g fill="none" stroke="#ff0000" stroke-width="1.45"><rect x="231.6" y="207.1" width="13.2" height="13.2"/><rect x="282.3" y="242.7" width="13.2" height="13.2"/><rect x="320.3" y="276.2" width="13.2" height="13.2"/><rect x="346.7" y="302.7" width="13.2" height="13.2"/><rect x="377.8" y="325.0" width="13.2" height="13.2"/><rect x="402.3" y="347.7" width="13.2" height="13.2"/><rect x="424.4" y="369.8" width="13.2" height="13.2"/><rect x="448.7" y="390.1" width="13.2" height="13.2"/><rect x="475.6" y="425.7" width="13.2" height="13.2"/></g>
<polyline points="261.0,194.0 455.6,397.2 484.2,431.8" fill="none" stroke="#7022a2" stroke-width="2.7" stroke-dasharray="9.7 4.46" stroke-dashoffset="7.46"/>
<rect x="280.3" y="7.7" width="255" height="83.2" fill="#fff" stroke="#000" stroke-width="1.3"/>
<rect x="291.8" y="26.0" width="13.2" height="14.8" fill="none" stroke="#ff0000" stroke-width="1.4"/>
<circle cx="298.3" cy="67.2" r="5.3" fill="#84b450"/>
<text x="318.63" y="38.60" font-size="16" textLength="176.68" lengthAdjust="spacingAndGlyphs" stroke-width="0.1">Stator Current Command</text>
<text x="317.54" y="71.30" font-size="16" textLength="200.66" lengthAdjust="spacingAndGlyphs" stroke-width="0.1">Stator Current Sample Value</text>
<text x="36.82" y="52.10" font-size="22.8" textLength="33.73" lengthAdjust="spacingAndGlyphs" stroke-width="0.22">350</text>
<text x="36.82" y="107.70" font-size="22.8" textLength="33.73" lengthAdjust="spacingAndGlyphs" stroke-width="0.22">300</text>
<text x="36.91" y="165.80" font-size="22.8" textLength="33.64" lengthAdjust="spacingAndGlyphs" stroke-width="0.22">250</text>
<text x="36.91" y="221.20" font-size="22.8" textLength="33.64" lengthAdjust="spacingAndGlyphs" stroke-width="0.22">200</text>
<text x="37.25" y="272.70" font-size="22.8" textLength="33.30" lengthAdjust="spacingAndGlyphs" stroke-width="0.22">150</text>
<text x="37.25" y="334.40" font-size="22.8" textLength="33.30" lengthAdjust="spacingAndGlyphs" stroke-width="0.22">100</text>
<text x="47.98" y="386.60" font-size="22.8" textLength="24.45" lengthAdjust="spacingAndGlyphs" stroke-width="0.22">50</text>
<text x="58.79" y="438.70" font-size="22.8" textLength="11.92" lengthAdjust="spacingAndGlyphs" stroke-width="0.22">0</text>
<text x="127.89" y="466.50" font-size="22.8" textLength="40.04" lengthAdjust="spacingAndGlyphs" stroke-width="0.22">-300</text>
<text x="239.97" y="466.40" font-size="22.8" textLength="40.77" lengthAdjust="spacingAndGlyphs" stroke-width="0.22">-200</text>
<text x="349.57" y="466.40" font-size="22.8" textLength="40.88" lengthAdjust="spacingAndGlyphs" stroke-width="0.22">-100</text>
<text x="476.59" y="466.20" font-size="22.8" textLength="11.92" lengthAdjust="spacingAndGlyphs" stroke-width="0.22">0</text>
<text x="261.35" y="499.30" font-size="22.5" stroke-width="0.05" font-style="italic">i</text>
<text x="267.23" y="502.10" font-size="15.6" stroke-width="0.05" font-style="italic">d</text>
<text x="277.70" y="500.90" font-size="24.4" textLength="6.73" lengthAdjust="spacingAndGlyphs" stroke-width="0.22">[</text>
<text x="285.89" y="499.30" font-size="21.3" textLength="15.67" lengthAdjust="spacingAndGlyphs" stroke-width="0.22">A</text>
<text x="302.67" y="500.90" font-size="24.4" textLength="6.73" lengthAdjust="spacingAndGlyphs" stroke-width="0.22">]</text>
<g transform="translate(0,251.3) rotate(-90)">
<text x="-0.65" y="23.10" font-size="22.5" stroke-width="0.05" font-style="italic">i</text>
<text x="7.08" y="25.70" font-size="15.6" stroke-width="0.05" font-style="italic">q</text>
<text x="15.63" y="24.30" font-size="24.4" textLength="6.58" lengthAdjust="spacingAndGlyphs" stroke-width="0.22">[</text>
<text x="23.20" y="23.60" font-size="21.3" textLength="14.85" lengthAdjust="spacingAndGlyphs" stroke-width="0.22">A</text>
<text x="39.35" y="24.30" font-size="24.4" textLength="6.88" lengthAdjust="spacingAndGlyphs" stroke-width="0.22">]</text>
</g>
</svg></body></html>
